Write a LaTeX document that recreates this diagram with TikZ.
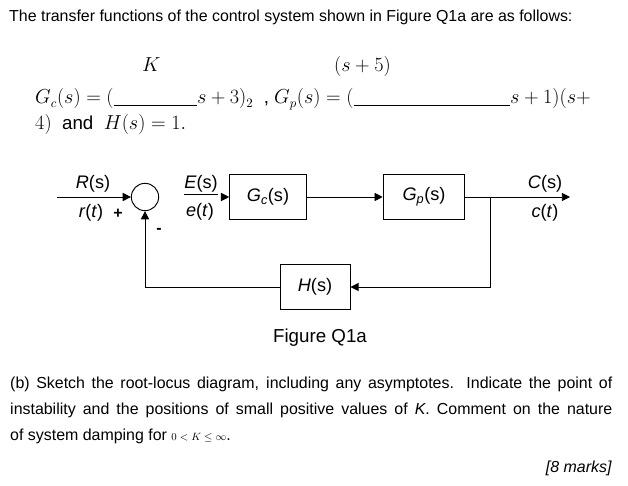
\documentclass[tikz,border=0pt]{standalone}
\usepackage{fontspec}
\setmainfont{Liberation Sans}
\usepackage{tikz}
\usetikzlibrary{arrows.meta,positioning,calc}

\begin{document}
\begin{tikzpicture}[
    x=0.03cm, y=-0.03cm,
    every node/.style={font=\fontsize{13.6}{15}\selectfont, inner sep=0pt},
    block/.style={rectangle, draw, thick, minimum width=2.3cm, minimum height=1.35cm, font=\fontsize{15.5}{17}\selectfont},
    sig/.style={font=\fontsize{15.5}{17}\selectfont},
    sumjunc/.style={circle, draw, thick, minimum size=0.82cm},
    eqn/.style={anchor=base west, font=\fontsize{16}{18}\selectfont\rmfamily},
    arrow/.style={-{Triangle[length=7pt,width=7pt]}, thick},
    line/.style={thick}
]
\useasboundingbox (0,0) rectangle (628,485);

% Statement
\node[anchor=base west] (intro) at (9,22) {The transfer functions of the control system shown in Figure Q1a are as follows:};

% Transfer functions
\node[eqn] (knum) at (142,72) {$K$};
\node[eqn] (gpnum) at (334,72) {$(s+5)$};
\node[eqn] (eqa) at (35,104) {$G_{c}(s)=(\underline{\hspace{2.5cm}}s+3)_{2}$\ \ , $G_{p}(s)=(\underline{\hspace{4.7cm}}s+1)(s+$};
\node[eqn] (eqb) at (35,130) {$4)$\ \ and\ \ $H(s)=1.$};

% Block diagram
\node[sumjunc] (sum) at (145,197) {};
\coordinate (in) at (57,197);
\node[block] (gc) at (268,197) {\textit{G}\textsubscript{\textit{c}}(s)};
\node[block, minimum width=2.45cm] (gp) at (424,197) {\textit{G}\textsubscript{\textit{p}}(s)};
\coordinate (out) at (570,197);
\coordinate (branch) at (490,197);
\node[block, minimum width=2.1cm] (h) at (315,287) {\textit{H}(s)};
\coordinate (fb) at (145,287);

\draw[arrow] (in) -- (sum);
\draw[arrow] (gc) -- (gp);
\draw[arrow] (gp.east) -- (out);
\draw[arrow] (branch) |- (h);
\draw[arrow] (h) -- (fb) -- (sum);

% Signal labels
\node[sig] (rs) at (93,184) {\textit{R}(s)};
\node[sig] (rt) at (91,213) {\textit{r}(\textit{t})};
\node (plus) at (118,214) {\textbf{+}};
\node (minus) at (159,231) {\textbf{-}};
\node[sig] (es) at (201,185) {\underline{\textit{E}(s)}};
\node[sig] (et) at (200,212) {\textit{e}(\textit{t})};
\draw[arrow] (es.south east |- sum) ++(4,0) -- (gc);
\node[sig] (cs) at (545,184) {\textit{C}(s)};
\node[sig] (ct) at (545,213) {\textit{c}(\textit{t})};

\node (caption) at (320,338) {\fontsize{16}{18}\selectfont Figure Q1a};

% Question (b)
\node[anchor=north west, text width=18.06cm, align=justify, font=\fontsize{13.6}{22}\selectfont] (partb) at (10,377)
  {\hangindent=0.81cm\hangafter=1 (b) Sketch the root-locus diagram, including any asymptotes. Indicate the point of\linebreak instability and the positions of small positive values of \textit{K}. Comment on the nature\linebreak of system damping for {\small$0<K\leq\infty$}.};
\node[anchor=base east] (marks) at (612,472) {\textit{[8 marks]}};

\end{tikzpicture}
\end{document}
